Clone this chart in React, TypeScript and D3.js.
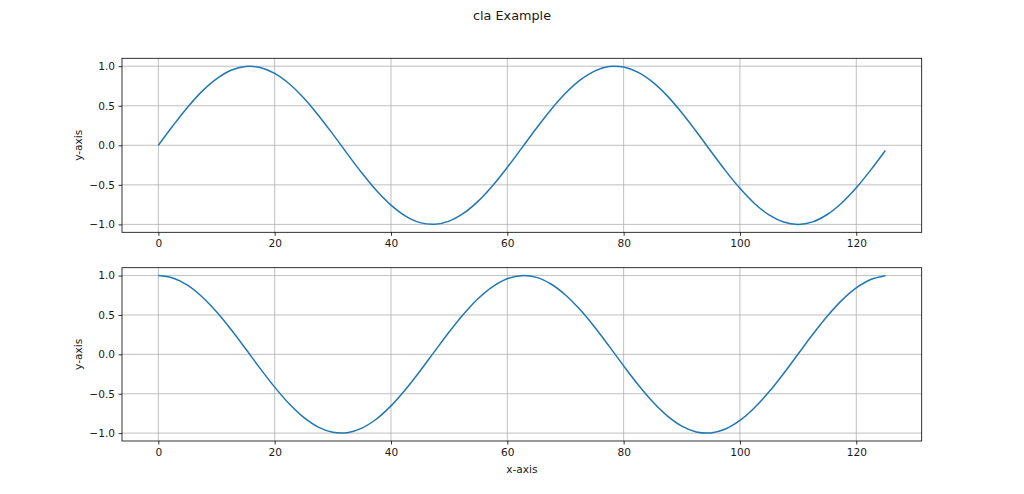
import { useEffect, useRef } from "react";
import * as d3 from "d3";

const xValues = [
  0, 2.5, 5, 7.5, 10, 12.5, 15, 17.5, 20, 22.5, 25, 27.5, 30, 32.5, 35, 37.5, 40, 42.5, 45, 47.5,
  50, 52.5, 55, 57.5, 60, 62.5, 65, 67.5, 70, 72.5, 75, 77.5, 80, 82.5, 85, 87.5, 90, 92.5, 95, 97.5,
  100, 102.5, 105, 107.5, 110, 112.5, 115, 117.5, 120, 122.5, 125,
];
const topSeries = [
  0, 0.247, 0.479, 0.682, 0.841, 0.949, 0.997, 0.984, 0.909, 0.778, 0.598, 0.381, 0.141, -0.108,
  -0.351, -0.572, -0.757, -0.895, -0.978, -0.999, -0.959, -0.859, -0.706, -0.508, -0.279, -0.033,
  0.215, 0.45, 0.657, 0.823, 0.938, 0.995, 0.989, 0.922, 0.798, 0.625, 0.412, 0.174, -0.075, -0.32,
  -0.544, -0.735, -0.88, -0.97, -1.0, -0.968, -0.875, -0.729, -0.537, -0.311, -0.066,
];
const bottomSeries = [
  1, 0.969, 0.878, 0.732, 0.54, 0.315, 0.071, -0.178, -0.416, -0.628, -0.801, -0.924, -0.99, -0.994,
  -0.936, -0.821, -0.654, -0.446, -0.211, 0.038, 0.284, 0.512, 0.709, 0.861, 0.96, 0.999, 0.977,
  0.893, 0.754, 0.568, 0.347, 0.104, -0.146, -0.386, -0.602, -0.781, -0.911, -0.985, -0.997, -0.947,
  -0.839, -0.678, -0.476, -0.244, 0.004, 0.251, 0.483, 0.685, 0.844, 0.95, 0.998,
];
const xTicks = [0, 20, 40, 60, 80, 100, 120];
const yTicks = [-1.0, -0.5, 0.0, 0.5, 1.0];

const W = 1024;
const H = 494;
const FONT = "DejaVu Sans, sans-serif";
const TEXT = "#1a1a1a";

export default function App() {
  const svgRef = useRef<SVGSVGElement>(null);

  useEffect(() => {
    if (!svgRef.current) return;
    const root = d3.select(svgRef.current);
    root.selectAll("*").remove();

    root.append("rect").attr("width", W).attr("height", H).attr("fill", "#fff");

    root.append("text")
      .attr("x", W / 2).attr("y", 20)
      .attr("text-anchor", "middle")
      .attr("font-family", FONT).attr("font-size", 12.8).attr("fill", TEXT)
      .text("cla Example");

    const left = 122, right = 921.7;
    const panels = [
      { top: 58.3, bottom: 232.3, values: topSeries, xlabel: false },
      { top: 267.7, bottom: 441, values: bottomSeries, xlabel: true },
    ];

    const x = d3.scaleLinear().domain([-6.25, 131.25]).range([left, right]);

    panels.forEach((p) => {
      const y = d3.scaleLinear().domain([-1.1, 1.1]).range([p.bottom, p.top]);
      const g = root.append("g");

      // grid
      g.selectAll(".gx").data(xTicks).enter().append("line")
        .attr("x1", (d) => x(d)).attr("x2", (d) => x(d))
        .attr("y1", p.top).attr("y2", p.bottom)
        .attr("stroke", "#b0b0b0").attr("stroke-width", 0.8);
      g.selectAll(".gy").data(yTicks).enter().append("line")
        .attr("x1", left).attr("x2", right)
        .attr("y1", (d) => y(d)).attr("y2", (d) => y(d))
        .attr("stroke", "#b0b0b0").attr("stroke-width", 0.8);

      // series
      const line = d3.line<number>()
        .x((_, i) => x(xValues[i]))
        .y((d) => y(d))
        .curve(d3.curveCatmullRom);
      g.append("path")
        .attr("d", line(p.values) ?? "")
        .attr("fill", "none")
        .attr("stroke", "#1f77b4")
        .attr("stroke-width", 1.5);

      // axes
      const xAxis = d3.axisBottom(x).tickValues(xTicks).tickSize(3.5).tickPadding(3.5)
        .tickFormat((d) => String(d));
      const yAxis = d3.axisLeft(y).tickValues(yTicks).tickSize(3.5).tickPadding(3.5)
        .tickFormat((d) => d3.format(".1f")(Number(d)).replace("-", "\u2212"));

      const ax = g.append("g").attr("transform", `translate(0,${p.bottom})`).call(xAxis);
      const ay = g.append("g").attr("transform", `translate(${left},0)`).call(yAxis);
      [ax, ay].forEach((a) => {
        a.select(".domain").remove();
        a.selectAll(".tick line").attr("stroke", "#000").attr("stroke-width", 0.8);
        a.selectAll("text").attr("font-family", FONT).attr("font-size", 10.6).attr("fill", TEXT);
      });

      // spines
      g.append("rect")
        .attr("x", left).attr("y", p.top)
        .attr("width", right - left).attr("height", p.bottom - p.top)
        .attr("fill", "none").attr("stroke", "#000").attr("stroke-width", 0.8);

      g.append("text")
        .attr("transform", `translate(82,${(p.top + p.bottom) / 2}) rotate(-90)`)
        .attr("text-anchor", "middle")
        .attr("font-family", FONT).attr("font-size", 10.6).attr("fill", TEXT)
        .text("y-axis");

      if (p.xlabel) {
        g.append("text")
          .attr("x", (left + right) / 2).attr("y", 473)
          .attr("text-anchor", "middle")
          .attr("font-family", FONT).attr("font-size", 10.6).attr("fill", TEXT)
          .text("x-axis");
      }
    });
  }, []);

  return (
    <div style={{ position: "fixed", left: 0, top: 0, width: W, height: H }}>
      <svg ref={svgRef} width={W} height={H} style={{ display: "block" }} />
    </div>
  );
}
